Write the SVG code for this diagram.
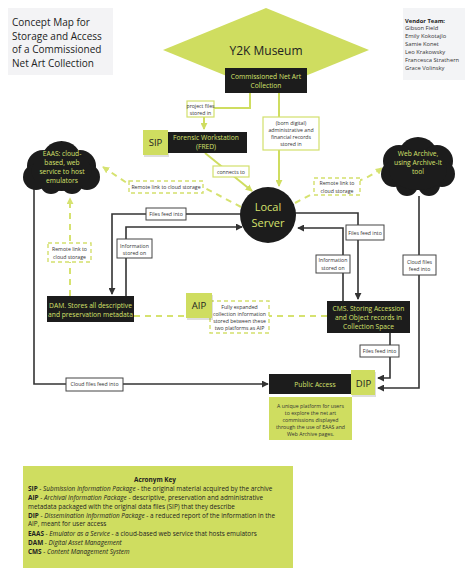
<svg xmlns="http://www.w3.org/2000/svg" width="474" height="586" viewBox="0 0 474 586">
<style>
text{font-family:"Open Sans","Liberation Sans",sans-serif;}
.blk{fill:#1c1c1c;}
.grn{fill:#cfdd60;}
.bt{fill:#d6e26c;font-size:6.7px;text-anchor:middle;}
.lb{fill:#333;font-size:5.2px;text-anchor:middle;}
.lbk{fill:#fff;stroke:#444;stroke-width:1;}
.lbg{fill:#fff;stroke:#d3df6c;stroke-width:1.2;}
.lbgd{fill:#fff;stroke:#d3df6c;stroke-width:1.4;stroke-dasharray:4 3;}
.ck{fill:none;stroke:#333;stroke-width:1.6;}
.cg{fill:none;stroke:#cfdd60;stroke-width:2;}
.cgd{fill:none;stroke:#d6e270;stroke-width:2;stroke-dasharray:6 5;}
.stk{fill:#222;font-size:9.5px;text-anchor:middle;}
.key{fill:#222;font-size:6.4px;}
.sh{fill:#000;opacity:0.13;}
</style>
<defs>
<marker id="ak" viewBox="0 0 8 8" refX="7" refY="4" markerWidth="7" markerHeight="7" orient="auto" markerUnits="userSpaceOnUse"><path d="M0,0 L8,4 L0,8 z" fill="#333"/></marker>
<marker id="ag" viewBox="0 0 8 8" refX="7" refY="4" markerWidth="7" markerHeight="7" orient="auto" markerUnits="userSpaceOnUse"><path d="M0,0 L8,4 L0,8 z" fill="#cfdd60"/></marker>
<marker id="agd" viewBox="0 0 8 8" refX="7" refY="4" markerWidth="7" markerHeight="7" orient="auto" markerUnits="userSpaceOnUse"><path d="M0,0 L8,4 L0,8 z" fill="#d6e270"/></marker>
</defs>
<rect width="474" height="586" fill="#fff"/>

<g id="title">
<rect x="8" y="8" width="105" height="67" fill="#f3f3f5"/>
<text x="12" y="26" font-size="10" fill="#222">Concept Map for</text>
<text x="12" y="39.5" font-size="10" fill="#222">Storage and Access</text>
<text x="12" y="53" font-size="10" fill="#222">of a Commissioned</text>
<text x="12" y="66.5" font-size="10" fill="#222">Net Art Collection</text>
</g>

<g id="vendor-team">
<rect x="403" y="8" width="62" height="72" fill="#f3f4f6"/>
<text x="405" y="22.5" font-size="5.8" font-weight="bold" fill="#222">Vendor Team:</text>
<text x="405" y="30.4" font-size="5.8" fill="#333">Gibson Field</text>
<text x="405" y="38.3" font-size="5.8" fill="#333">Emily Kokotajlo</text>
<text x="405" y="46.2" font-size="5.8" fill="#333">Samie Konet</text>
<text x="405" y="54.1" font-size="5.8" fill="#333">Leo Krakowsky</text>
<text x="405" y="62" font-size="5.8" fill="#333">Francesca Strathern</text>
<text x="405" y="69.9" font-size="5.8" fill="#333">Grace Volinsky</text>
</g>

<g id="connectors">
<path class="cg" d="M250,93 V108 H204 V129" marker-end="url(#ag)"/>
<path class="cg" d="M279,93 V186" marker-end="url(#ag)"/>
<path class="cg" d="M205,153 L252,191" marker-end="url(#ag)"/>
<path class="cgd" d="M241,207 L203,187 L130,185 L103,167" marker-end="url(#agd)"/>
<path class="cgd" d="M70,296 V198" marker-end="url(#agd)"/>
<path class="cgd" d="M295,203 L316,192 L358,181 Q370,177 382,168" marker-end="url(#agd)"/>
<path class="cgd" d="M134,316 H327"/>
<path class="ck" d="M241,214 H112 V294" marker-end="url(#ak)"/>
<path class="ck" d="M126,296 V227 H242" marker-end="url(#ak)"/>
<path class="ck" d="M295,213 H358 V299" marker-end="url(#ak)"/>
<path class="ck" d="M343,301 V228 H298" marker-end="url(#ak)"/>
<path class="ck" d="M419,196 V388 H378" marker-end="url(#ak)"/>
<path class="ck" d="M390,333 V378 H378" marker-end="url(#ak)"/>
<path class="ck" d="M34,188 V384 H268" marker-end="url(#ak)"/>
<rect class="lbg" x="187" y="101" width="27" height="16"/>
<text class="lb" x="200.5" y="107.8">project files</text>
<text class="lb" x="200.5" y="114.5">stored in</text>
<rect class="lbg" x="263" y="117" width="56" height="33"/>
<text class="lb" x="291" y="124.5">(born digital)</text>
<text class="lb" x="291" y="131.8">administrative and</text>
<text class="lb" x="291" y="139">financial records</text>
<text class="lb" x="291" y="146.2">stored in</text>
<rect class="lbg" x="213" y="166" width="36" height="11"/>
<text class="lb" x="231" y="173.5">connects to</text>
<rect class="lbgd" x="129" y="181" width="74" height="12"/>
<text class="lb" x="166" y="189">Remote link to cloud storage</text>
<rect class="lbgd" x="48" y="243" width="43" height="19"/>
<text class="lb" x="69.5" y="251">Remote link to</text>
<text class="lb" x="69.5" y="258.5">cloud storage</text>
<rect class="lbgd" x="314" y="178" width="46" height="17"/>
<text class="lb" x="337" y="185.3">Remote link to</text>
<text class="lb" x="337" y="192.7">cloud storage</text>
<rect class="lbgd" x="210" y="301" width="59" height="32"/>
<text class="lb" x="239.5" y="308.5">Fully expanded</text>
<text class="lb" x="239.5" y="316">collection information</text>
<text class="lb" x="239.5" y="323">stored between these</text>
<text class="lb" x="239.5" y="330.3">two platforms as AIP</text>
<rect class="lbk" x="146" y="208" width="40" height="12"/>
<text class="lb" x="166" y="216">Files feed into</text>
<rect class="lbk" x="117" y="239" width="35" height="19"/>
<text class="lb" x="134.5" y="248">Information</text>
<text class="lb" x="134.5" y="255">stored on</text>
<rect class="lbk" x="346" y="225" width="38" height="15"/>
<text class="lb" x="365" y="234.5">Files feed into</text>
<rect class="lbk" x="316" y="255" width="34" height="18"/>
<text class="lb" x="333" y="262">Information</text>
<text class="lb" x="333" y="269.5">stored on</text>
<rect class="lbk" x="403" y="255" width="33" height="20"/>
<text class="lb" x="419.5" y="263.5">Cloud files</text>
<text class="lb" x="419.5" y="270.5">feed into</text>
<rect class="lbk" x="360" y="345" width="39" height="12"/>
<text class="lb" x="379.5" y="353">Files feed into</text>
<rect class="lbk" x="66" y="378" width="57" height="13"/>
<text class="lb" x="94.5" y="386.3">Cloud files feed into</text>
</g>

<g id="y2k-museum">
<polygon class="grn" points="163,50 266,8 369,50 266,92"/>
<text x="266" y="55" font-size="12" fill="#222" text-anchor="middle">Y2K Museum</text>
</g>

<g id="commissioned">
<rect class="blk" x="225" y="68" width="82" height="25"/>
<text class="bt" x="266" y="78.5">Commissioned Net Art</text>
<text class="bt" x="266" y="87.5">Collection</text>
</g>

<g id="fred">
<rect class="blk" x="166" y="132" width="81" height="21"/>
<text class="bt" x="206" y="139.5">Forensic Workstation</text>
<text class="bt" x="206" y="148.5">(FRED)</text>
</g>

<g id="sip">
<rect class="sh" x="144" y="132" width="25" height="25"/>
<rect class="grn" x="143" y="130" width="25" height="25"/>
<text class="stk" x="155.5" y="145.5">SIP</text>
</g>

<g id="local-server">
<circle class="blk" cx="268" cy="215" r="28"/>
<text x="268" y="211" font-size="11" fill="#d6e26c" text-anchor="middle">Local</text>
<text x="268" y="226.5" font-size="11" fill="#d6e26c" text-anchor="middle">Server</text>
</g>

<g id="eaas" class="blk">
<circle cx="61.5" cy="161" r="20"/>
<circle cx="43" cy="166" r="16"/>
<circle cx="80" cy="166" r="16"/>
<circle cx="36" cy="177" r="13"/>
<circle cx="87" cy="177" r="13"/>
<circle cx="51" cy="183" r="11"/>
<circle cx="72" cy="183" r="11"/>
<ellipse cx="61.5" cy="171" rx="30" ry="20"/>
<text class="bt" x="62" y="156">EAAS: cloud-</text>
<text class="bt" x="62" y="165">based, web</text>
<text class="bt" x="62" y="174">service to host</text>
<text class="bt" x="62" y="183">emulators</text>
</g>

<g id="web-archive" class="blk">
<circle cx="418" cy="157" r="20"/>
<circle cx="399" cy="161" r="16"/>
<circle cx="437" cy="161" r="16"/>
<circle cx="394" cy="174" r="13"/>
<circle cx="442" cy="174" r="13"/>
<circle cx="407" cy="185" r="11"/>
<circle cx="429" cy="185" r="11"/>
<ellipse cx="418" cy="170" rx="29" ry="20"/>
<text class="bt" x="418" y="155.5">Web Archive,</text>
<text class="bt" x="418" y="164.5">using Archive-It</text>
<text class="bt" x="418" y="173.5">tool</text>
</g>

<g id="dam">
<rect class="blk" x="47" y="296" width="87" height="26"/>
<text class="bt" x="90.5" y="307.5">DAM. Stores all descriptive</text>
<text class="bt" x="90.5" y="316.5">and preservation metadata</text>
</g>

<g id="aip">
<rect class="sh" x="187" y="295" width="26" height="25"/>
<rect class="grn" x="186" y="293" width="26" height="25"/>
<text class="stk" x="199" y="308.5" font-size="9">AIP</text>
</g>

<g id="cms">
<rect class="blk" x="327" y="301" width="83" height="32"/>
<text class="bt" x="368.5" y="311">CMS. Storing Accession</text>
<text class="bt" x="368.5" y="320">and Object records in</text>
<text class="bt" x="368.5" y="328.7">Collection Space</text>
</g>

<g id="public-access">
<rect class="blk" x="269" y="374" width="83" height="20"/>
<text class="bt" x="315" y="387">Public Access</text>
<rect class="grn" x="269" y="397" width="83" height="43"/>
<text class="lb" x="310.5" y="407.5" fill="#222" font-size="5.4">A unique platform for users</text>
<text class="lb" x="310.5" y="415" fill="#222" font-size="5.4">to explore the net art</text>
<text class="lb" x="310.5" y="422" fill="#222" font-size="5.4">commissions displayed</text>
<text class="lb" x="310.5" y="429" fill="#222" font-size="5.4">through the use of EAAS and</text>
<text class="lb" x="310.5" y="436" fill="#222" font-size="5.4">Web Archive pages.</text>
</g>

<g id="dip">
<rect class="sh" x="352" y="372" width="24" height="25"/>
<rect class="grn" x="351" y="370" width="24" height="25"/>
<text class="stk" x="363.5" y="386.5" font-size="10.5">DIP</text>
</g>

<g id="acronym-key">
<rect class="grn" x="23" y="466" width="270" height="102"/>
<text class="key" x="155" y="482" font-weight="bold" text-anchor="middle">Acronym Key</text>
<text class="key" x="28" y="491"><tspan font-weight="bold">SIP</tspan> - <tspan font-style="italic">Submission Information Package</tspan> - the original material acquired by the archive</text>
<text class="key" x="28" y="499.8"><tspan font-weight="bold">AIP</tspan> - <tspan font-style="italic">Archival Information Package</tspan> - descriptive, preservation and administrative</text>
<text class="key" x="28" y="508.8">metadata packaged with the original data files (SIP) that they describe</text>
<text class="key" x="28" y="517.8"><tspan font-weight="bold">DIP</tspan> - <tspan font-style="italic">Dissemination Information Package</tspan> - a reduced report of the information in the</text>
<text class="key" x="28" y="526.3">AIP, meant for user access</text>
<text class="key" x="28" y="535.8"><tspan font-weight="bold">EAAS</tspan> - <tspan font-style="italic">Emulator as a Service</tspan> - a cloud-based web service that hosts emulators</text>
<text class="key" x="28" y="544.8"><tspan font-weight="bold">DAM</tspan> - <tspan font-style="italic">Digital Asset Management</tspan></text>
<text class="key" x="28" y="553.8"><tspan font-weight="bold">CMS</tspan> - <tspan font-style="italic">Content Management System</tspan></text>
</g>
</svg>
